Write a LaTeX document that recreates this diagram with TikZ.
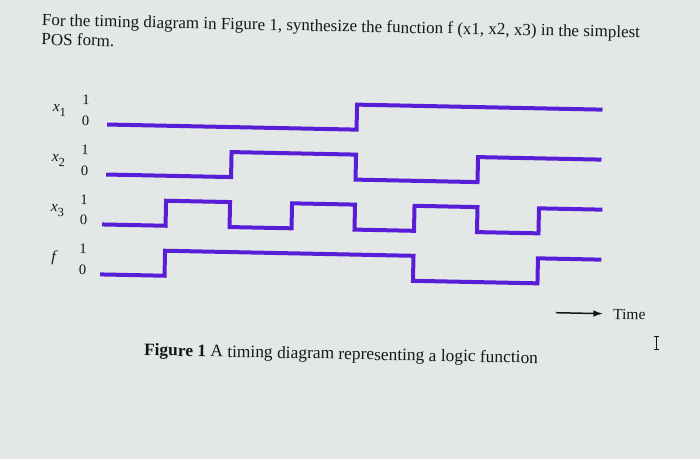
\documentclass[tikz,border=0pt]{standalone}
\usepackage{fontspec}
\setmainfont{Liberation Serif}
\usetikzlibrary{arrows.meta}
\definecolor{bgpaper}{RGB}{227,232,231}
\definecolor{wave}{RGB}{88,30,215}
\definecolor{ink}{RGB}{22,22,24}
\tikzset{
  wavepath/.style={draw=wave, line width=4pt, line join=miter, line cap=butt},
  txt/.style={inner sep=0pt, outer sep=0pt, anchor=base west, text=ink, transform shape},
  title/.style={txt, align=left, font=\fontsize{17}{19.3}\selectfont},
  caption/.style={txt, font=\fontsize{17.4}{19}\selectfont},
  sig/.style={txt, font=\fontsize{15.5}{17}\selectfont\itshape},
  lvl/.style={inner sep=0pt, outer sep=0pt, anchor=base, text=ink, transform shape, font=\fontsize{14.5}{16}\selectfont},
  timelabel/.style={txt, font=\fontsize{15.5}{17}\selectfont},
  timearrow/.style={draw=ink, line width=1.5pt, -{Latex[length=10pt,width=6.5pt]}}
}
\newcommand{\sigsub}[2]{#1\raisebox{-5pt}{\upshape\fontsize{12.5}{12.5}\selectfont #2}}
\begin{document}
\begin{tikzpicture}[x=1pt,y=-1pt]
\fill[bgpaper] (0,0) rectangle (700,459);
\useasboundingbox (0,0) rectangle (700,459);
\begin{scope}[rotate around={-1.17:(350,230)}]
  % title (base anchor = baseline of the last line)
  \node[title] (t1) at (37.7,51.3) {For the timing diagram in Figure 1, synthesize the function f (x1, x2, x3) in the simplest\\POS form.};
  % signal names
  \node[sig] (n1) at (50.5,117.7) {\sigsub{x}{1}};
  \node[sig] (n2) at (50.5,167.7) {\sigsub{x}{2}};
  \node[sig] (n3) at (50.5,217.7) {\sigsub{x}{3}};
  \node[sig] (n4) at (52,267.7) {f};
  % level labels
  \node[lvl] (h1) at (83.5,109.5) {1};
  \node[lvl] (l1) at (83.5,130.5) {0};
  \node[lvl] (h2) at (83.5,159.5) {1};
  \node[lvl] (l2) at (83.5,180.5) {0};
  \node[lvl] (h3) at (83.5,209.5) {1};
  \node[lvl] (l3) at (83.5,230.5) {0};
  \node[lvl] (h4) at (83.5,259.5) {1};
  \node[lvl] (l4) at (83.5,280.5) {0};
  % waveforms
  \draw[wavepath] (105,129.5) -- (354.5,129.5) -- (354.5,104.5) -- (600,104.5);
  \draw[wavepath] (105,179.5) -- (230,179.5) -- (230,154.5) -- (354.5,154.5)
        -- (354.5,179.5) -- (476.5,179.5) -- (476.5,154.5) -- (600,154.5);
  \draw[wavepath] (102,229.5) -- (165.5,229.5) |- (229.5,204.5) |- (291.5,229.5)
        |- (354.5,204.5) |- (414,229.5) |- (477,204.5) |- (538.5,229.5) |- (602,204.5);
  \draw[wavepath] (101,279.5) -- (165.5,279.5) |- (414,254.5) |- (538.5,279.5) |- (602,254.5);
  % time arrow
  \node[timelabel] (time) at (615,314) {Time};
  \coordinate (tA) at (557.5,308.5);
  \coordinate (tB) at (605,308.5);
  \draw[timearrow] (tA) -- (tB);
  % caption
  \node[caption] (cap) at (146.6,359.5) {\textbf{Figure 1} A timing diagram representing a logic function};
\end{scope}
% text cursor
\draw[ink, line width=1pt] (656.5,337) -- (656.5,348.5);
\draw[ink, line width=1pt] (654.3,336.5) -- (658.7,336.5);
\draw[ink, line width=1pt] (654.3,349) -- (658.7,349);
\end{tikzpicture}
\end{document}
